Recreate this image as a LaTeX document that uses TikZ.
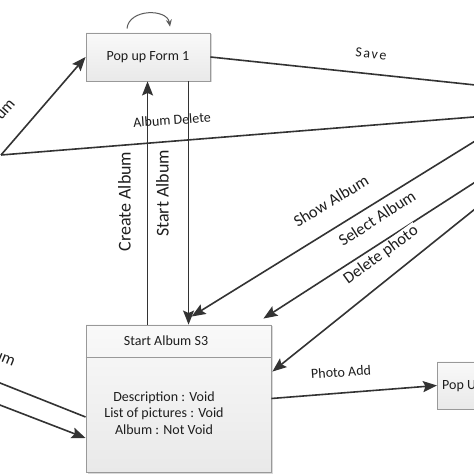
\documentclass[tikz,border=0pt]{standalone}
\usepackage{fontspec}
\setmainfont{Carlito}
\usetikzlibrary{arrows.meta,calc,shadows}
\definecolor{ink}{HTML}{333333}
\definecolor{txt}{HTML}{1E1E1E}
\definecolor{boxline}{HTML}{999999}
\definecolor{boxtop}{HTML}{F9F9F9}
\definecolor{boxbot}{HTML}{E9E9E9}
\tikzset{
  statebox/.style={draw=boxline, line width=0.9pt, top color=boxtop, bottom color=boxbot,
    drop shadow={shadow xshift=1.5pt, shadow yshift=-1.5pt, opacity=0.15, fill=black}, inner sep=0pt},
  wire/.style={draw=ink, line width=1.6pt},
  arr/.style={wire, -{Stealth[length=14pt,width=11pt,inset=2.5pt]}},
  boxtext/.style={text=txt, font=\fontsize{14}{16.5}\selectfont, inner sep=0pt},
  biglabel/.style={text=txt, font=\fontsize{18}{20}\selectfont, inner sep=0pt},
  midlabel/.style={text=txt, font=\fontsize{16.5}{19}\selectfont, inner sep=0pt},
  smalllabel/.style={text=txt, font=\fontsize{14}{16}\selectfont, inner sep=0pt},
}
\begin{document}
\begin{tikzpicture}[x=1pt,y=1pt]
\useasboundingbox (0,0) rectangle (474,474);
\fill[white] (0,0) rectangle (474,474);

% free ends of connectors leaving the frame
\coordinate (west) at (1,319);
\coordinate (eastLong) at (480,357.5);
\coordinate (eastSave) at (480,388.5);
\coordinate (eastShow) at (480,336);
\coordinate (eastSelect) at (480,295);
\coordinate (eastDelete) at (480,269);
\coordinate (westA) at (-10,95);
\coordinate (westB) at (-10,72.8);

% states
\node[statebox, boxtext, minimum width=124pt, minimum height=48pt] (form1) at (148,417) {Pop up Form 1};
\node[statebox, minimum width=185pt, minimum height=147pt] (s3) at (178.5,75.5) {};
\draw[boxline, line width=0.9pt] ($(s3.north west)+(0,-33)$) -- ($(s3.north east)+(0,-33)$);
\node[boxtext] (s3title) at (166,133) {Start Album S3};
\node[boxtext, align=center] (s3body) at (164,61) {Description : Void\\List of pictures : Void\\Album : Not Void};
\node[statebox, minimum width=120pt, minimum height=47pt, anchor=west] (popU) at (437,88.5) {};
\node[boxtext, anchor=west] (popUtxt) at (442,88) {Pop Up Form 2};

% self loop on the first form
\draw[ink!80, line width=1pt, -{Stealth[length=7pt,width=6pt]}]
  ($(form1.north)+(-21,4)$) .. controls +(2,20) and +(-3,18) .. ($(form1.north)+(22,6)$);

% transitions
\draw[arr] (west) -- (form1.west);
\draw[wire] (west) -- (eastLong);
\draw[wire] (form1.east) -- (eastSave);
\draw[arr] ($(s3.north west)+(62,0)$) -- ($(form1.south west)+(62,0)$);
\draw[arr] ($(form1.south west)+(103,0)$) -- ($(s3.north west)+(103,0)$);
\draw[arr] (eastShow) -- ($(s3.north west)+(106,8)$);
\draw[arr] (eastSelect) -- ($(s3.north east)+(-8,6)$);
\draw[arr] (eastDelete) -- ($(s3.north east)+(1,-47)$);
\draw[arr] (s3.east) -- (popU.west);
\draw[wire] (westA) -- ($(s3.west)+(0,-18.5)$);
\draw[arr] (westB) -- ($(s3.west)+(0,-39.5)$);

% labels
\node[smalllabel, rotate=4] (lblDel) at (172,354) {Album Delete};
\node[smalllabel, rotate=-6] (lblSave) at (371,420) {\addfontfeature{LetterSpace=12}Save};
\node[biglabel, rotate=90] (lblCreate) at (124.5,272.5) {Create Album};
\node[biglabel, rotate=90] (lblStart) at (162.5,280.5) {Start Album};
\node[midlabel, rotate=31] (lblShow) at (331,273) {Show Album};
\node[midlabel, rotate=33] (lblSelect) at (377,256) {Select Album};
\node[midlabel, rotate=36, fill=white, inner sep=1pt] (lblDelPhoto) at (381,219) {Delete photo};
\node[smalllabel, rotate=4] (lblAdd) at (341,102) {Photo Add};
\node[midlabel, rotate=49, anchor=base east] (lblLeftTop) at (16,370) {Album};
\node[midlabel, rotate=-22, anchor=base east] (lblLeftBot) at (13,107) {Album};
\end{tikzpicture}
\end{document}
